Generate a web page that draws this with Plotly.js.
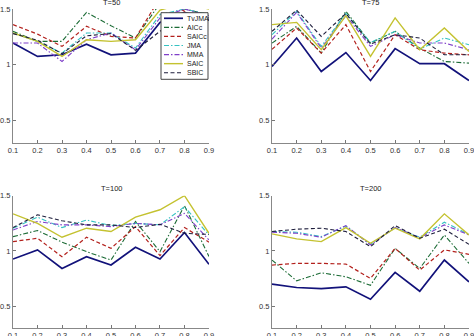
<!DOCTYPE html>
<html>
<head>
<meta charset="utf-8">
<script src="https://cdn.plot.ly/plotly-3.0.1.min.js"></script>
<style>html,body{margin:0;padding:0;background:#fff;}#chart{width:474px;height:336px;}</style>
</head>
<body>
<div id="chart"></div>
<script>
// ---- data ----
const xVals = [0.1, 0.2, 0.3, 0.4, 0.5, 0.6, 0.7, 0.8, 0.9];
const methods = ["TvJMA", "AICc", "SAICc", "JMA", "MMA", "SAIC", "SBIC"];
const panelTitles = ["T=50", "T=75", "T=100", "T=200"];
const xTickVals = [0.1, 0.2, 0.3, 0.4, 0.5, 0.6, 0.7, 0.8, 0.9];
const yTickVals = [0.5, 1, 1.5];

// series in the order of `methods`
const T50 = [
  [1.195, 1.075, 1.09, 1.185, 1.09, 1.105, 1.38, 1.47, 1.40],
  [1.30, 1.21, 1.21, 1.47, 1.35, 1.24, 1.55, 1.50, 1.45],
  [1.36, 1.275, 1.165, 1.345, 1.255, 1.24, 1.60, 1.48, 1.26],
  [1.285, 1.21, 1.105, 1.285, 1.285, 1.15, 1.45, 1.50, 1.45],
  [1.195, 1.195, 1.03, 1.225, 1.285, 1.135, 1.42, 1.50, 1.44],
  [1.285, 1.21, 1.075, 1.225, 1.21, 1.225, 1.49, 1.55, 1.50],
  [1.28, 1.22, 1.10, 1.26, 1.28, 1.13, 1.30, 1.45, 1.42]
];
const T75 = [
  [0.985, 1.24, 0.94, 1.11, 0.86, 1.145, 1.01, 1.01, 0.86],
  [1.195, 1.345, 1.105, 1.48, 1.195, 1.30, 1.15, 1.03, 1.015],
  [1.14, 1.33, 1.105, 1.36, 0.94, 1.27, 1.135, 1.105, 1.09],
  [1.27, 1.48, 1.165, 1.46, 1.20, 1.30, 1.14, 1.24, 1.18],
  [1.23, 1.47, 1.15, 1.44, 1.165, 1.27, 1.195, 1.195, 1.135],
  [1.36, 1.38, 1.135, 1.44, 1.075, 1.42, 1.135, 1.33, 1.12],
  [1.30, 1.49, 1.255, 1.46, 1.185, 1.27, 1.24, 1.09, 1.09]
];
const T100 = [
  [0.927, 1.01, 0.842, 0.948, 0.873, 1.033, 0.927, 1.167, 0.88],
  [1.13, 1.185, 1.08, 0.994, 0.918, 1.267, 0.994, 1.41, 0.95],
  [1.085, 1.115, 0.948, 1.124, 1.024, 1.22, 0.958, 1.212, 1.08],
  [1.206, 1.306, 1.212, 1.28, 1.23, 1.25, 1.236, 1.40, 1.145],
  [1.19, 1.267, 1.236, 1.236, 1.22, 1.25, 1.236, 1.34, 1.10],
  [1.336, 1.25, 1.124, 1.206, 1.176, 1.306, 1.373, 1.50, 1.16],
  [1.212, 1.327, 1.273, 1.236, 1.236, 1.212, 1.242, 1.16, 1.15]
];
const T200 = [
  [0.70, 0.67, 0.66, 0.676, 0.564, 0.806, 0.636, 0.918, 0.72],
  [0.918, 0.73, 0.803, 0.767, 0.69, 1.024, 0.842, 1.145, 0.888],
  [0.873, 0.888, 0.888, 0.882, 0.752, 1.024, 0.827, 1.01, 0.97],
  [1.176, 1.17, 1.13, 1.225, 1.06, 1.21, 1.125, 1.26, 1.15],
  [1.17, 1.16, 1.124, 1.23, 1.055, 1.212, 1.12, 1.236, 1.145],
  [1.155, 1.11, 1.085, 1.212, 1.07, 1.206, 1.11, 1.336, 1.145],
  [1.176, 1.197, 1.206, 1.176, 1.039, 1.23, 1.115, 1.197, 1.06]
];
const panels = [T50, T75, T100, T200];

// ---- styles ----
const colors = ["#12127a", "#1b6b35", "#b3201c", "#35c2c2", "#7f3fc9", "#c4c230", "#1e1e3c"];
const dashes = ["solid", "5px,2px,1.5px,2px", "4px,2.5px", "5px,2px,1.5px,2px", "5px,2px,1.5px,2px", "solid", "4px,2.5px"];
const widths = [1.7, 1.1, 1.2, 1.1, 1.1, 1.4, 1.1];

const W = 474, H = 336;
const px = v => v / W, py = v => 1 - v / H;
const xDomains = [[px(13), px(209)], [px(272), px(469)], [px(13), px(209)], [px(272), px(469)]];
const yDomains = [[py(143), py(9)], [py(143), py(9)], [py(328.4), py(195.7)], [py(328.4), py(195.7)]];

const traces = [];
panels.forEach((series, p) => {
  const sfx = p === 0 ? "" : String(p + 1);
  series.forEach((ys, m) => {
    traces.push({
      type: "scatter", mode: "lines", x: xVals, y: ys, name: methods[m],
      xaxis: "x" + sfx, yaxis: "y" + sfx, showlegend: false, hoverinfo: "skip",
      line: {color: colors[m], width: widths[m], dash: dashes[m]}
    });
  });
});

const layout = {
  width: W, height: H, margin: {l: 0, r: 0, t: 0, b: 0},
  paper_bgcolor: "#fff", plot_bgcolor: "#fff", showlegend: false,
  font: {family: "Liberation Sans, Arial, sans-serif", size: 7.5, color: "#333"},
  annotations: [], shapes: []
};
const titleY = [py(3), py(3), py(188), py(188)];
for (let p = 0; p < 4; p++) {
  const sfx = p === 0 ? "" : String(p + 1);
  layout["xaxis" + sfx] = {
    domain: xDomains[p], range: [0.0999, 0.9001], anchor: "y" + sfx,
    tickvals: xTickVals, ticktext: xTickVals.map(v => v.toFixed(1)),
    ticks: "inside", ticklen: 3, tickcolor: "#777", showgrid: false, zeroline: false,
    showline: true, linecolor: "#888", linewidth: 1, tickfont: {size: 7.5, color: "#333"},
    ticklabeloverflow: "allow"
  };
  layout["yaxis" + sfx] = {
    domain: yDomains[p], range: [0.3, 1.5], anchor: "x" + sfx,
    tickvals: yTickVals, ticktext: ["0.5", "1", "1.5"],
    ticks: "inside", ticklen: 3, tickcolor: "#777", showgrid: false, zeroline: false,
    showline: true, linecolor: "#888", linewidth: 1, tickfont: {size: 7.5, color: "#333"},
    ticklabeloverflow: "allow"
  };
  layout.annotations.push({
    xref: "paper", yref: "paper", x: (xDomains[p][0] + xDomains[p][1]) / 2, y: titleY[p],
    text: panelTitles[p], showarrow: false, xanchor: "center", yanchor: "middle",
    font: {size: 7.5, color: "#222"}
  });
}

// legend box (top-left panel)
layout.shapes.push({
  type: "rect", xref: "paper", yref: "paper", layer: "above",
  x0: px(161), x1: px(208), y0: py(79.3), y1: py(12.7),
  fillcolor: "#fff", line: {color: "#444", width: 1}
});
methods.forEach((name, m) => {
  const yy = 18.3 + m * 9.07;
  layout.shapes.push({
    type: "line", xref: "paper", yref: "paper", layer: "above",
    x0: px(164), x1: px(183), y0: py(yy), y1: py(yy),
    line: {color: colors[m], width: widths[m], dash: dashes[m]}
  });
  layout.annotations.push({
    xref: "paper", yref: "paper", x: px(185), y: py(yy), text: name,
    showarrow: false, xanchor: "left", yanchor: "middle",
    font: {size: 7, color: "#222"}
  });
});

Plotly.newPlot("chart", traces, layout, {staticPlot: true, displayModeBar: false});
</script>
</body>
</html>
